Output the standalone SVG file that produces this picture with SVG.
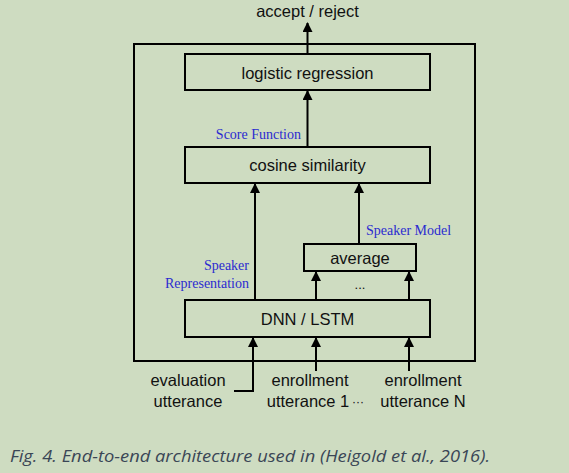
<svg xmlns="http://www.w3.org/2000/svg" width="569" height="473" viewBox="0 0 569 473">
<style>
.box{fill:none;stroke:#000;stroke-width:2}
.ln{fill:none;stroke:#000;stroke-width:2}
.t{font-family:"Liberation Sans",Arial,sans-serif;font-size:16.5px;fill:#111;text-anchor:middle}
.b{font-family:"Liberation Serif","Times New Roman",serif;font-size:14px;fill:#2b2bd0}
.cap{font-family:"Open Sans","Liberation Sans",sans-serif;font-style:italic;font-size:17px;fill:#3a4656}
</style>
<defs>
<marker id="ah" markerWidth="10" markerHeight="12" refX="9" refY="5" orient="auto" markerUnits="userSpaceOnUse">
<path d="M0,0 L10,5 L0,10 Z" fill="#000"/>
</marker>
</defs>
<rect width="569" height="473" fill="#cedcc1"/>
<g id="frame"><rect class="box" x="134" y="44" width="341" height="317"/></g>
<g id="connectors">
<line class="ln" x1="307.5" y1="54" x2="307.5" y2="23" marker-end="url(#ah)"/>
<line class="ln" x1="307.5" y1="147" x2="307.5" y2="91" marker-end="url(#ah)"/>
<line class="ln" x1="255" y1="300" x2="255" y2="184" marker-end="url(#ah)"/>
<line class="ln" x1="359" y1="244" x2="359" y2="184" marker-end="url(#ah)"/>
<line class="ln" x1="316" y1="300" x2="316" y2="272" marker-end="url(#ah)"/>
<line class="ln" x1="409" y1="300" x2="409" y2="272" marker-end="url(#ah)"/>
<polyline class="ln" points="234,391 253,391 253,338" marker-end="url(#ah)"/>
<line class="ln" x1="316" y1="371" x2="316" y2="338" marker-end="url(#ah)"/>
<line class="ln" x1="409" y1="371" x2="409" y2="338" marker-end="url(#ah)"/>
</g>
<g id="logistic"><rect class="box" x="185" y="54" width="245" height="36"/><text class="t" x="307.5" y="78.5">logistic regression</text></g>
<g id="cosine"><rect class="box" x="185" y="147" width="245" height="36"/><text class="t" x="307.5" y="171">cosine similarity</text></g>
<g id="average"><rect class="box" x="304" y="244" width="112" height="27"/><text class="t" x="360" y="264">average</text></g>
<g id="dnn"><rect class="box" x="185" y="300" width="245" height="37"/><text class="t" x="307.5" y="325">DNN / LSTM</text></g>
<g id="labels">
<text class="t" x="307.5" y="17">accept / reject</text>
<text class="b" x="301" y="139" text-anchor="end">Score Function</text>
<text class="b" x="366" y="235">Speaker Model</text>
<text class="b" x="249" y="270" text-anchor="end">Speaker</text>
<text class="b" x="249" y="288" text-anchor="end">Representation</text>
<text class="t" x="360" y="289" style="font-size:13px">...</text>
<text class="t" x="188" y="386">evaluation</text>
<text class="t" x="188" y="407">utterance</text>
<text class="t" x="310" y="386">enrollment</text>
<text class="t" x="308" y="407">utterance 1</text>
<text class="t" x="358" y="406" style="font-size:12px">···</text>
<text class="t" x="423" y="386">enrollment</text>
<text class="t" x="423" y="407">utterance N</text>
</g>
<text class="cap" x="10" y="462" textLength="480" lengthAdjust="spacingAndGlyphs">Fig. 4. End-to-end architecture used in (Heigold et al., 2016).</text>
</svg>
